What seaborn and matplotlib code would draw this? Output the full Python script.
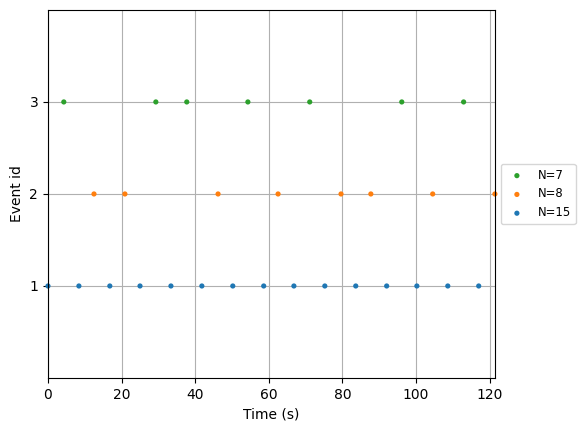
import matplotlib
matplotlib.use("Agg")
import matplotlib.pyplot as plt
import seaborn as sns
import pandas as pd

# event onset times (s) per event id
times_1 = [0.0, 8.4, 16.8, 25.0, 33.4, 41.8, 50.2, 58.6, 66.8, 75.2, 83.6, 92.0, 100.2, 108.6, 117.0]
times_2 = [12.5, 20.9, 46.2, 62.5, 79.6, 87.7, 104.5, 121.4]
times_3 = [4.3, 29.3, 37.7, 54.3, 71.1, 96.1, 112.9]
event_ids = [1, 2, 3]
colors = ["#1f77b4", "#ff7f0e", "#2ca02c"]

fig = plt.figure(figsize=(5.85, 4.32), dpi=100)
ax = fig.add_axes([0.082, 0.125, 0.764, 0.852])

handles = []
for eid, times, color in zip(event_ids, [times_1, times_2, times_3], colors):
    df = pd.DataFrame({"t": times, "id": [eid] * len(times)})
    sns.scatterplot(data=df, x="t", y="id", ax=ax, color=color, marker="o",
                    s=14, edgecolor="none", linewidth=0, label=f"N={len(times)}", clip_on=False)

ax.set_xlim(0, 121.4)
ax.set_ylim(0, 4)
ax.set_yticks(event_ids)
ax.set_xlabel("Time (s)")
ax.set_ylabel("Event id")
ax.grid(True)
ax.set_axisbelow(True)

h, l = ax.get_legend_handles_labels()
ax.legend(h[::-1], l[::-1], loc="center left", bbox_to_anchor=(1.0, 0.5), fontsize="small")

fig.savefig("out.png", dpi=100)
